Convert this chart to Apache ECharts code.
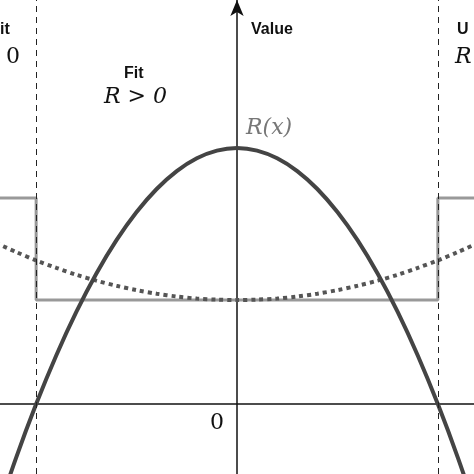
<!DOCTYPE html>
<html><head><meta charset="utf-8">
<script src="https://cdn.jsdelivr.net/npm/echarts@6/dist/echarts.min.js"></script>
<style>html,body{margin:0;padding:0;background:#fff}#c{width:474px;height:474px}</style>
</head><body><div id="c"></div>
<script>
// x positions where curves were read
var xs = [-1.2, -1.1, -1.0, -0.9, -0.8, -0.7, -0.6, -0.5, -0.4, -0.3, -0.2, -0.1, 0, 0.1, 0.2, 0.3, 0.4, 0.5, 0.6, 0.7, 0.8, 0.9, 1.0, 1.1, 1.2];
// R(x), solid dark curve
var fitValues = [-0.44, -0.21, 0, 0.19, 0.36, 0.51, 0.64, 0.75, 0.84, 0.91, 0.96, 0.99, 1, 0.99, 0.96, 0.91, 0.84, 0.75, 0.64, 0.51, 0.36, 0.19, 0, -0.21, -0.44];
// dotted curve
var dotValues = [0.629, 0.594, 0.561, 0.532, 0.505, 0.482, 0.462, 0.445, 0.431, 0.420, 0.412, 0.408, 0.406, 0.408, 0.412, 0.420, 0.431, 0.445, 0.462, 0.482, 0.505, 0.532, 0.561, 0.594, 0.629];
// gray step
var stepX = [-1.2, -1, -1, 1, 1, 1.2];
var stepY = [0.805, 0.805, 0.406, 0.406, 0.805, 0.805];
var boundaries = [-1, 1];

function pairs(a, b) {
  var out = [];
  for (var i = 0; i < a.length; i++) out.push([a[i], b[i]]);
  return out;
}

var chart = echarts.init(document.getElementById('c'));
var serif = '"DejaVu Serif", "Liberation Serif", serif';
var sans = '"Liberation Sans", Arial, sans-serif';

chart.setOption({
  animation: false,
  grid: {left: 0, right: 0, top: 0, bottom: 0},
  xAxis: {
    type: 'value', min: -1.18, max: 1.18,
    splitLine: {show: false}, axisLabel: {show: false}, axisTick: {show: false},
    axisLine: {onZero: true, lineStyle: {color: '#111', width: 1.5}}
  },
  yAxis: {
    type: 'value', min: -0.273, max: 1.578,
    splitLine: {show: false}, axisLabel: {show: false}, axisTick: {show: false},
    axisLine: {onZero: true, symbol: ['none', 'arrow'], symbolSize: [10, 16],
      lineStyle: {color: '#111', width: 1.5}}
  },
  series: [
    {
      type: 'line', data: pairs(stepX, stepY), symbol: 'none',
      lineStyle: {color: '#999', width: 3},
      markLine: {
        symbol: 'none', silent: true, label: {show: false},
        lineStyle: {color: '#222', type: [6, 5], width: 1},
        data: boundaries.map(function (b) { return {xAxis: b}; })
      }
    },
    {
      type: 'line', data: pairs(xs, dotValues), smooth: 0.3, symbol: 'none',
      lineStyle: {color: '#555', width: 4, type: [4, 4]}
    },
    {
      type: 'line', data: pairs(xs, fitValues), smooth: 0.3, symbol: 'none',
      lineStyle: {color: '#444', width: 4}
    }
  ],
  graphic: [
    {type: 'text', left: 251, top: 22, style: {text: 'Value', font: 'bold 16px ' + sans, fill: '#111'}},
    {type: 'text', left: 124, top: 66, style: {text: 'Fit', font: 'bold 16px ' + sans, fill: '#111'}},
    {type: 'text', left: 104, top: 86, style: {text: 'R > 0', font: 'italic 22px ' + serif, fill: '#111'}},
    {type: 'text', left: 246, top: 117, style: {text: 'R(x)', font: 'italic 22px ' + serif, fill: '#777'}},
    {type: 'text', left: 0, top: 22, style: {text: 'it', font: 'bold 16px ' + sans, fill: '#111'}},
    {type: 'text', left: 6, top: 46, style: {text: '0', font: '22px ' + serif, fill: '#111'}},
    {type: 'text', left: 457, top: 22, style: {text: 'U', font: 'bold 16px ' + sans, fill: '#111'}},
    {type: 'text', left: 455, top: 46, style: {text: 'R', font: 'italic 22px ' + serif, fill: '#111'}},
    {type: 'text', left: 210, top: 412, style: {text: '0', font: '22px ' + serif, fill: '#111'}}
  ]
});
</script>
</body></html>
